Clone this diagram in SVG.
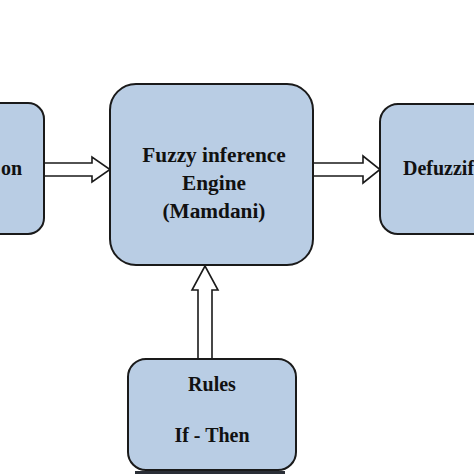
<svg xmlns="http://www.w3.org/2000/svg" width="474" height="474" viewBox="0 0 474 474">
  <style>
    .box { fill: #b9cde4; stroke: #1a1a1a; stroke-width: 2; }
    .arrow { fill: #ffffff; stroke: #1a1a1a; stroke-width: 1.6; stroke-linejoin: miter; }
    .label { font-family: "Liberation Serif", "Times New Roman", serif; font-weight: bold; font-size: 20px; fill: #111111; text-anchor: middle; }
    .big { font-size: 21.3px; }
  </style>
  <rect x="0" y="0" width="474" height="474" fill="#ffffff"/>
  <g id="connectors">
    <path class="arrow" d="M44,163 L92,163 L92,157 L110,169.5 L92,182 L92,176 L44,176 Z"/>
    <path class="arrow" d="M313,163 L363,163 L363,156 L380,169.5 L363,183 L363,176 L313,176 Z"/>
    <path class="arrow" d="M198,359 L198,290 L192,290 L205,266 L218,290 L212,290 L212,359 Z"/>
  </g>
  <g id="fuzzification">
    <rect class="box" x="-30" y="103" width="74" height="131" rx="16" ry="16"/>
    <text class="label" x="22" y="175" style="text-anchor:end">on</text>
  </g>
  <g id="inference-engine">
    <rect class="box" x="110" y="84" width="203" height="181" rx="26" ry="26"/>
    <text class="label big" x="214" y="162">Fuzzy inference</text>
    <text class="label big" x="214" y="190">Engine</text>
    <text class="label big" x="214" y="218">(Mamdani)</text>
  </g>
  <g id="defuzzification">
    <rect class="box" x="380" y="104" width="130" height="130" rx="18" ry="18"/>
    <text class="label" x="403" y="175" style="text-anchor:start">Defuzzif</text>
  </g>
  <g id="rules">
    <rect x="135" y="471" width="150" height="4" fill="#2a2e36"/>
    <rect class="box" x="128" y="359" width="168" height="111" rx="18" ry="18"/>
    <text class="label" x="212" y="391">Rules</text>
    <text class="label" x="212" y="442">If - Then</text>
  </g>
</svg>
